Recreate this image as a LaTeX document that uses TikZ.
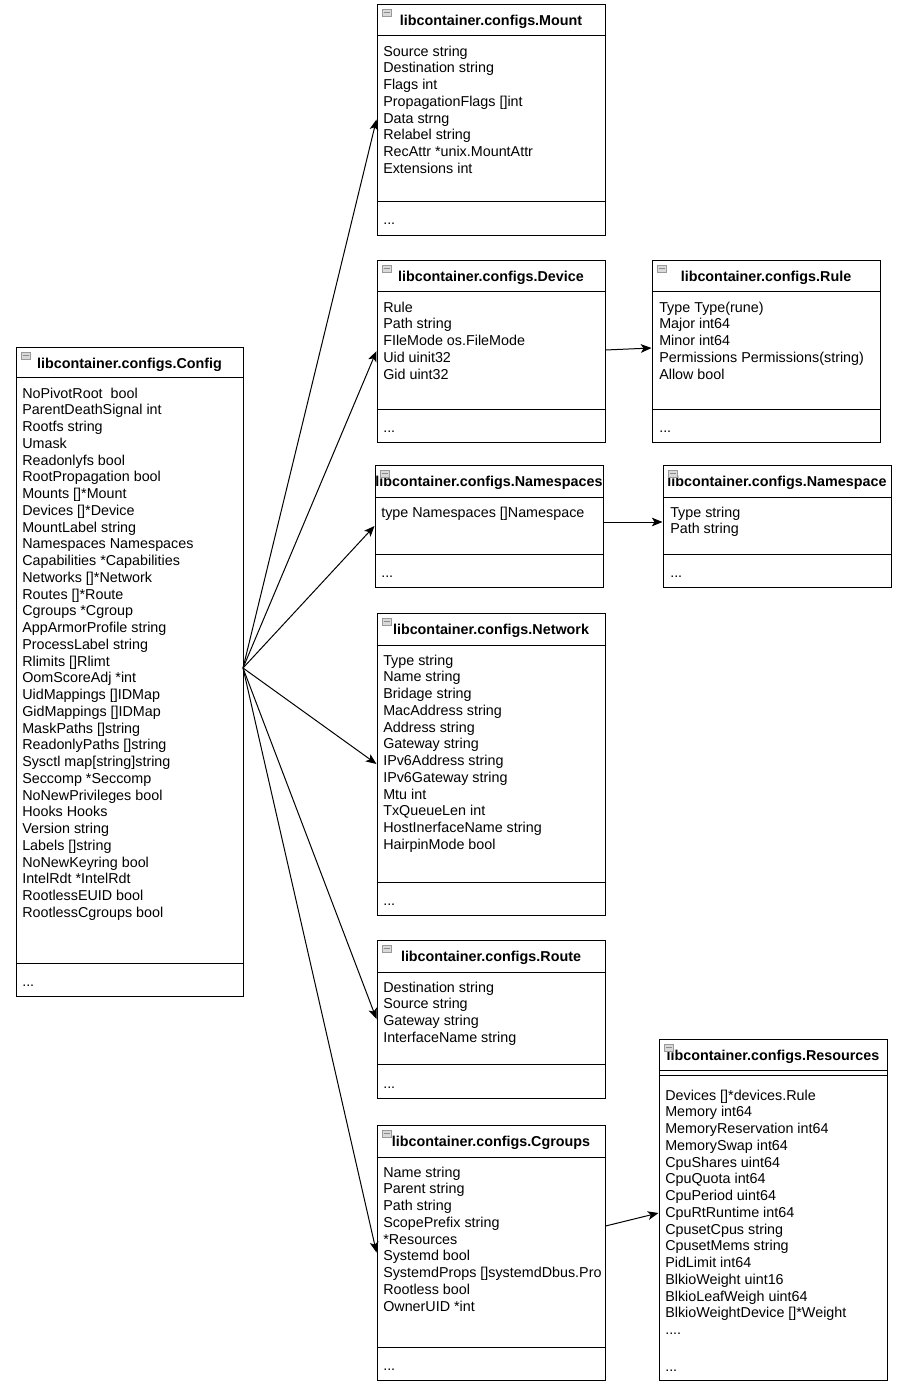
\documentclass[tikz,border=0pt]{standalone}
\usepackage{fontspec}
\setmainfont{Liberation Sans}
\usetikzlibrary{arrows.meta,fit,calc}
\tikzset{
  txt/.style={font=\fontsize{10.75pt}{12.5pt}\selectfont, inner sep=0pt, anchor=base west},
  ttl/.style={font=\fontsize{10.75pt}{12.5pt}\selectfont\bfseries, inner sep=0pt, anchor=base},
  box/.style={draw=black, line width=0.75pt, fill=white, inner sep=0pt},
  sep/.style={draw=black, line width=0.75pt},
  icon/.style={draw=gray!80, fill=gray!30, line width=0.5pt},
  conn/.style={draw=black, line width=0.75pt, -{Stealth[length=8pt,width=6.5pt,inset=2pt]}}
}
% \umlbox{name}{x1}{y1}{x2}{y2}{title}
\newcommand{\umlbox}[6]{%
  \node[box, fit={(#2,#3) (#4,#5)}] (#1) {};
  \node[ttl] (#1-title) at ({(#2+#4)/2},{#3+21}) {#6};
  \draw[icon] ({#2+5},{#3+5}) rectangle ({#2+14},{#3+12});
  \draw[gray!90, line width=0.6pt] ({#2+6.5},{#3+8.5}) -- ({#2+12.5},{#3+8.5});
}
% \umlfields{prefix}{x}{y0}{list}
\newcommand{\umlfields}[4]{%
  \foreach \ftext [count=\fidx from 0] in {#4} {
    \node[txt] (#1-f\fidx) at (#2,{#3+\fidx*16.75}) {\ftext};
  }
}
\begin{document}
\begin{tikzpicture}[x=0.75pt,y=-0.75pt]
\useasboundingbox[fill=white] (0,0) rectangle (920,1392);

% Config
\umlbox{config}{16}{347}{243}{996}{libcontainer.configs.Config}
\draw[sep] (16,377) -- (243,377);
\draw[sep] (16,963) -- (243,963);
\umlfields{config}{22}{398}{{NoPivotRoot\ \ bool},{ParentDeathSignal int},{Rootfs string},{Umask},{Readonlyfs bool},{RootPropagation bool},{Mounts []*Mount},{Devices []*Device},{MountLabel string},{Namespaces Namespaces},{Capabilities *Capabilities},{Networks []*Network},{Routes []*Route},{Cgroups *Cgroup},{AppArmorProfile string},{ProcessLabel string},{Rlimits []Rlimt},{OomScoreAdj *int},{UidMappings []IDMap},{GidMappings []IDMap},{MaskPaths []string},{ReadonlyPaths []string},{Sysctl map[string]string},{Seccomp *Seccomp},{NoNewPrivileges bool},{Hooks Hooks},{Version string},{Labels []string},{NoNewKeyring bool},{IntelRdt *IntelRdt},{RootlessEUID bool},{RootlessCgroups bool}}
\node[txt] (config-dots) at (22,986) {...};

% Mount
\umlbox{mount}{377}{4}{605}{235}{libcontainer.configs.Mount}
\draw[sep] (377,35) -- (605,35);
\draw[sep] (377,201) -- (605,201);
\umlfields{mount}{383}{56}{{Source string},{Destination string},{Flags int},{PropagationFlags []int},{Data strng},{Relabel string},{RecAttr *unix.MountAttr},{Extensions int}}
\node[txt] (mount-dots) at (383,224) {...};

% Device
\umlbox{device}{377}{260}{605}{442}{libcontainer.configs.Device}
\draw[sep] (377,291) -- (605,291);
\draw[sep] (377,409) -- (605,409);
\umlfields{device}{383}{312}{{Rule},{Path string},{FIleMode os.FileMode},{Uid uinit32},{Gid uint32}}
\node[txt] (device-dots) at (383,432) {...};

% Rule
\umlbox{rule}{652}{260}{880}{442}{libcontainer.configs.Rule}
\draw[sep] (652,291) -- (880,291);
\draw[sep] (652,409) -- (880,409);
\umlfields{rule}{659}{312}{{Type Type(rune)},{Major int64},{Minor int64},{Permissions Permissions(string)},{Allow bool}}
\node[txt] (rule-dots) at (659,432) {...};

% Namespaces
\umlbox{nss}{375}{465}{603}{587}{libcontainer.configs.Namespaces}
\draw[sep] (375,497) -- (603,497);
\draw[sep] (375,554) -- (603,554);
\umlfields{nss}{381}{517}{{type Namespaces []Namespace}}
\node[txt] (nss-dots) at (381,577) {...};
\draw[icon] (380,470) rectangle (389,477);
\draw[gray!90, line width=0.6pt] (381.5,473.5) -- (387.5,473.5);

% Namespace
\umlbox{ns}{663}{465}{891}{587}{libcontainer.configs.Namespace}
\draw[sep] (663,497) -- (891,497);
\draw[sep] (663,554) -- (891,554);
\umlfields{ns}{670}{517}{{Type string},{Path string}}
\node[txt] (ns-dots) at (670,577) {...};
\draw[icon] (668,470) rectangle (677,477);
\draw[gray!90, line width=0.6pt] (669.5,473.5) -- (675.5,473.5);

% Network
\umlbox{net}{377}{613}{605}{915}{libcontainer.configs.Network}
\draw[sep] (377,645) -- (605,645);
\draw[sep] (377,882) -- (605,882);
\umlfields{net}{383}{665}{{Type string},{Name string},{Bridage string},{MacAddress string},{Address string},{Gateway string},{IPv6Address string},{IPv6Gateway string},{Mtu int},{TxQueueLen int},{HostInerfaceName string},{HairpinMode bool}}
\node[txt] (net-dots) at (383,905) {...};
\draw[icon] (382,618) rectangle (391,625);
\draw[gray!90, line width=0.6pt] (383.5,621.5) -- (389.5,621.5);

% Route
\umlbox{route}{377}{940}{605}{1098}{libcontainer.configs.Route}
\draw[sep] (377,972) -- (605,972);
\draw[sep] (377,1064) -- (605,1064);
\umlfields{route}{383}{992}{{Destination string},{Source string},{Gateway string},{InterfaceName string}}
\node[txt] (route-dots) at (383,1088) {...};

% Cgroups
\umlbox{cg}{377}{1125}{605}{1380}{libcontainer.configs.Cgroups}
\draw[sep] (377,1157) -- (605,1157);
\draw[sep] (377,1347) -- (605,1347);
\begin{scope}
\clip (377,1157) rectangle (601,1347);
\umlfields{cg}{383}{1177}{{Name string},{Parent string},{Path string},{ScopePrefix string},{*Resources},{Systemd bool},{SystemdProps []systemdDbus.Property},{Rootless bool},{OwnerUID *int}}
\end{scope}
\node[txt] (cg-dots) at (383,1370) {...};
\draw[icon] (382,1130) rectangle (391,1137);
\draw[gray!90, line width=0.6pt] (383.5,1133.5) -- (389.5,1133.5);

% Resources
\umlbox{res}{659}{1039}{887}{1380}{libcontainer.configs.Resources}
\draw[sep] (659,1070) -- (887,1070);
\draw[sep] (659,1075) -- (887,1075);
\umlfields{res}{665}{1100}{{Devices []*devices.Rule},{Memory int64},{MemoryReservation int64},{MemorySwap int64},{CpuShares uint64},{CpuQuota int64},{CpuPeriod uint64},{CpuRtRuntime int64},{CpusetCpus string},{CpusetMems string},{PidLimit int64},{BlkioWeight uint16},{BlkioLeafWeigh uint64},{BlkioWeightDevice []*Weight}}
\node[txt] (res-more) at (665,1334.5) {....};
\node[txt] (res-dots) at (665,1371) {...};
\draw[icon] (664,1044) rectangle (673,1051);
\draw[gray!90, line width=0.6pt] (665.5,1047.5) -- (671.5,1047.5);

% connectors
\coordinate (src) at (243,668);
\draw[conn] (src) -- (mount.west);
\draw[conn] (src) -- (device.west);
\draw[conn] (src) -- (nss.west);
\draw[conn] (src) -- (net.west);
\draw[conn] (src) -- (route.west);
\draw[conn] (src) -- (cg.west);
\draw[conn] (device.east |- 0,350) -- (rule.west |- 0,348);
\draw[conn] (nss.east |- 0,522) -- (ns.west |- 0,522);
\draw[conn] (cg.east |- 0,1226) -- (res.west |- 0,1213);
\end{tikzpicture}
\end{document}
